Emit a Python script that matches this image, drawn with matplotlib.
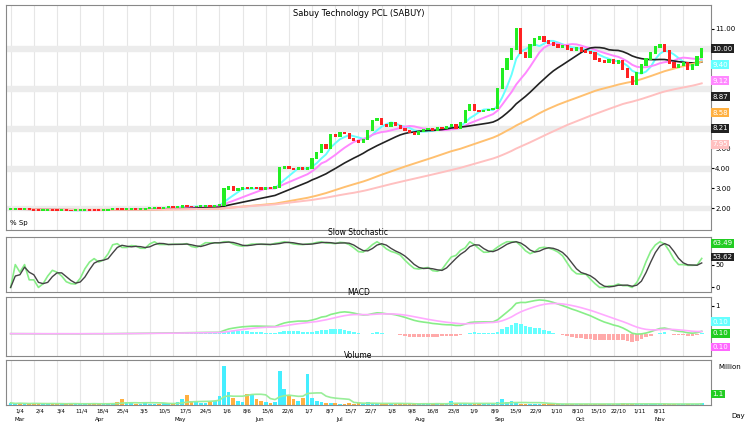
import matplotlib
matplotlib.use("Agg")
import matplotlib.pyplot as plt
import numpy as np
import pandas as pd

# daily closes
closes = [
    1.95, 1.96, 1.94, 1.95, 1.93, 1.90, 1.88, 1.90, 1.92, 1.91,
    1.89, 1.90, 1.88, 1.87, 1.89, 1.90, 1.92, 1.91, 1.90, 1.89,
    1.91, 1.93, 1.95, 1.94, 1.93, 1.95, 1.96, 1.94, 1.95, 1.97,
    1.99, 2.00, 1.98, 2.02, 2.05, 2.03, 2.06, 2.10, 2.08, 2.07,
    2.09, 2.10, 2.12, 2.11, 2.13, 2.15,
    2.95, 3.05, 2.90, 2.95, 3.00, 2.98, 3.02, 3.00, 2.97, 3.01, 2.99, 3.05,
    4.00, 4.05, 3.98, 3.95, 4.02, 3.97, 4.00,
    4.50, 4.80, 5.20, 5.00, 5.70, 5.60, 5.80, 5.75,
    5.50, 5.40, 5.30, 5.45,
    5.90, 6.40, 6.50, 6.20, 6.10, 6.30, 6.15, 6.00,
    5.90, 5.80, 5.70, 5.85, 5.95, 6.00, 5.90, 6.05, 6.00,
    6.10, 6.20, 6.00, 6.30, 6.90, 7.20, 6.90,
    6.85, 6.90, 6.95, 7.00,
    8.00, 9.00, 9.50,
    10.00, 11.00, 9.80,
    9.60, 10.20, 10.50, 10.60,
    10.40, 10.30, 10.20, 10.10, 10.15, 10.00, 9.95, 10.05, 9.90, 9.85, 9.80,
    9.50, 9.40, 9.35, 9.45, 9.30, 9.40,
    9.00, 8.60, 8.20, 8.80, 9.20, 9.50,
    9.80, 10.10, 10.20, 9.90, 9.30, 9.10, 9.20,
    9.30, 9.00, 9.20, 9.60, 10.00,
]

# daily volume in millions
volume = [
    2, 1, 2, 1, 1, 2, 1, 1, 1, 2, 1, 1, 1, 2, 1, 1, 1, 1, 2, 1,
    1, 1, 2, 3, 5, 3, 2, 1, 1, 2, 1, 1, 1, 2, 1, 2, 3, 5, 9, 4,
    3, 2, 2, 3, 4, 8, 35, 12, 6, 4, 3, 10, 9, 5, 4, 3, 2, 3, 30, 14,
    8, 5, 4, 6, 28, 6, 4, 3, 2, 2, 2, 1, 1, 2, 1, 2, 1, 3, 2, 1,
    1, 1, 1, 2, 1, 1, 1, 1, 1, 2, 1, 1, 2, 1, 1, 4, 2, 1, 1, 1,
    1, 1, 2, 1, 1, 3, 5, 3, 4, 2, 1, 1, 1, 1, 1, 1, 1, 1, 1, 1,
    1, 1, 1, 1, 1, 1, 1, 1, 1, 1, 1, 1, 2, 1, 1, 1, 1, 1, 1, 1,
    1, 1, 1, 1, 1, 1, 1, 1, 1, 2,
]

date_labels = ["1/4", "2/4", "3/4", "11/4", "18/4", "25/4", "3/5", "10/5", "17/5",
               "24/5", "1/6", "8/6", "15/6", "22/6", "1/7", "8/7", "15/7", "22/7",
               "1/8", "9/8", "16/8", "23/8", "1/9", "8/9", "15/9", "22/9", "1/10",
               "8/10", "15/10", "22/10", "1/11", "8/11"]
month_labels = ["Mar", "Apr", "May", "Jun", "Jul", "Aug", "Sep", "Oct", "Nov"]

close = pd.Series(closes)
vol = pd.Series(volume[:len(closes)] + [1] * max(0, len(closes) - len(volume)))
n = len(close)
x = np.arange(n)
opens = close.shift(1).fillna(close.iloc[0])

fig = plt.figure(figsize=(7.5, 4.22), dpi=100)
fig.patch.set_facecolor("#ffffff")
L, W = 0.008, 0.94
ax1 = fig.add_axes([L, 0.455, W, 0.533])
ax2 = fig.add_axes([L, 0.308, W, 0.130])
ax3 = fig.add_axes([L, 0.156, W, 0.140])
ax4 = fig.add_axes([L, 0.040, W, 0.107])

for ax in (ax1, ax2, ax3, ax4):
    ax.set_xlim(-1, n + 1)
    ax.tick_params(labelleft=False, left=False, labelbottom=False, bottom=False,
                   right=True, labelright=True, labelsize=5, length=2, pad=1)
    ax.yaxis.set_label_position("right")
    for s in ax.spines.values():
        s.set_color("#888888")
        s.set_linewidth(0.8)
    for xv in np.arange(0, n, 5):
        ax.axvline(xv, color="#e6e6e6", lw=0.8, zorder=0)

# price panel
ma = {c: close.rolling(w, min_periods=1).mean()
      for c, w in [("#66ffff", 5), ("#ff88ff", 10), ("#222222", 20),
                   ("#ffc070", 50), ("#ffc0c0", 75)]}
for c, s in ma.items():
    ax1.plot(x, s, color=c, lw=1.4 if c != "#222222" else 1.2, zorder=2)
up = close >= opens
ax1.bar(x[up], (close - opens)[up].abs() + 0.08, bottom=opens[up] - 0.04,
        width=0.7, color="#22ee22", zorder=3)
ax1.bar(x[~up], (close - opens)[~up].abs() + 0.08, bottom=close[~up] - 0.04,
        width=0.7, color="#ff2222", zorder=3)
ax1.set_ylim(0.9, 12.2)
ax1.set_yticks([2, 3, 4, 5, 11])
ax1.set_yticklabels(["2.00", "3.00", "4.00", "5.00", "11.00"])
for yv in [2, 4, 6, 8, 10]:
    ax1.axhspan(yv - 0.12, yv + 0.12, color="#ececec", zorder=0)
ax1.set_title("Sabuy Technology PCL (SABUY)", fontsize=6, pad=-8, y=1.0)
ax1.text(0.005, 0.02, "% Sp", transform=ax1.transAxes, fontsize=5)
boxes = [(10.0, "#222222", "10.00", "white"), (9.2, "#66ffff", "9.40", "white"),
         (8.4, "#ff88ff", "9.12", "white"), (7.6, "#222222", "8.87", "white"),
         (6.8, "#ffb040", "8.58", "white"), (6.0, "#222222", "8.21", "white"),
         (5.2, "#ffc0c0", "7.95", "white")]
for yv, fc, t, tc in boxes:
    ax1.text(1.002, (yv - 0.9) / 11.3, t, transform=ax1.transAxes, fontsize=5,
             color=tc, va="center", bbox=dict(fc=fc, ec="none", pad=1))

# slow stochastic
lo = close.rolling(14, min_periods=1).min()
hi = close.rolling(14, min_periods=1).max()
k = (100 * (close - lo) / (hi - lo).replace(0, 1)).rolling(3, min_periods=1).mean()
d = k.rolling(3, min_periods=1).mean()
ax2.plot(x, k, color="#88ee88", lw=1.2)
ax2.plot(x, d, color="#444444", lw=1.0)
ax2.set_ylim(-10, 110)
ax2.set_yticks([0, 50])
ax2.set_title("Slow Stochastic", fontsize=5.5, pad=-7)
ax2.text(1.002, 0.85, f"{k.iloc[-1]:.2f}", transform=ax2.transAxes, fontsize=5,
         color="white", bbox=dict(fc="#22cc22", ec="none", pad=1))
ax2.text(1.002, 0.6, f"{d.iloc[-1]:.2f}", transform=ax2.transAxes, fontsize=5,
         color="white", bbox=dict(fc="#222222", ec="none", pad=1))

# MACD
macd = close.ewm(span=12).mean() - close.ewm(span=26).mean()
sig = macd.ewm(span=9).mean()
hist = macd - sig
ax3.bar(x, hist, width=0.8, color=np.where(hist >= 0, "#66ffff", "#ffaaaa"))
ax3.plot(x, macd, color="#88ee88", lw=1.2)
ax3.plot(x, sig, color="#ffaaff", lw=1.2)
ax3.set_ylim(-0.8, 1.3)
ax3.set_yticks([1])
ax3.set_yticklabels(["1"])
ax3.set_title("MACD", fontsize=5.5, pad=-7)
for yv, fc in [(0.55, "#66ffff"), (0.35, "#22cc22"), (0.12, "#ff66ff")]:
    ax3.text(1.002, yv, "0.10", transform=ax3.transAxes, fontsize=5, color="white",
             bbox=dict(fc=fc, ec="none", pad=1))

# volume
vup = close.diff().fillna(0) >= 0
ax4.bar(x, vol, width=0.8, color=np.where(vup, "#44eeff", "#ffb040"))
ax4.plot(x, vol.rolling(10, min_periods=1).mean(), color="#99ee99", lw=1.2)
ax4.set_ylim(0, 40)
ax4.set_yticks([])
ax4.set_title("Volume", fontsize=5.5, pad=-7)
ax4.text(1.01, 0.8, "Million", transform=ax4.transAxes, fontsize=5)
ax4.text(1.002, 0.2, "1.1", transform=ax4.transAxes, fontsize=5, color="white",
         bbox=dict(fc="#22cc22", ec="none", pad=1))

pos = np.linspace(2, n - 10, len(date_labels))
for p, t in zip(pos, date_labels):
    fig.text(L + W * (p + 1) / (n + 2), 0.022, t, fontsize=4, ha="center")
for p, t in zip(np.linspace(2, n - 10, len(month_labels)), month_labels):
    fig.text(L + W * (p + 1) / (n + 2), 0.002, t, fontsize=4, ha="center")
fig.text(0.975, 0.01, "Day", fontsize=5)

fig.savefig("out.png", dpi=100)
